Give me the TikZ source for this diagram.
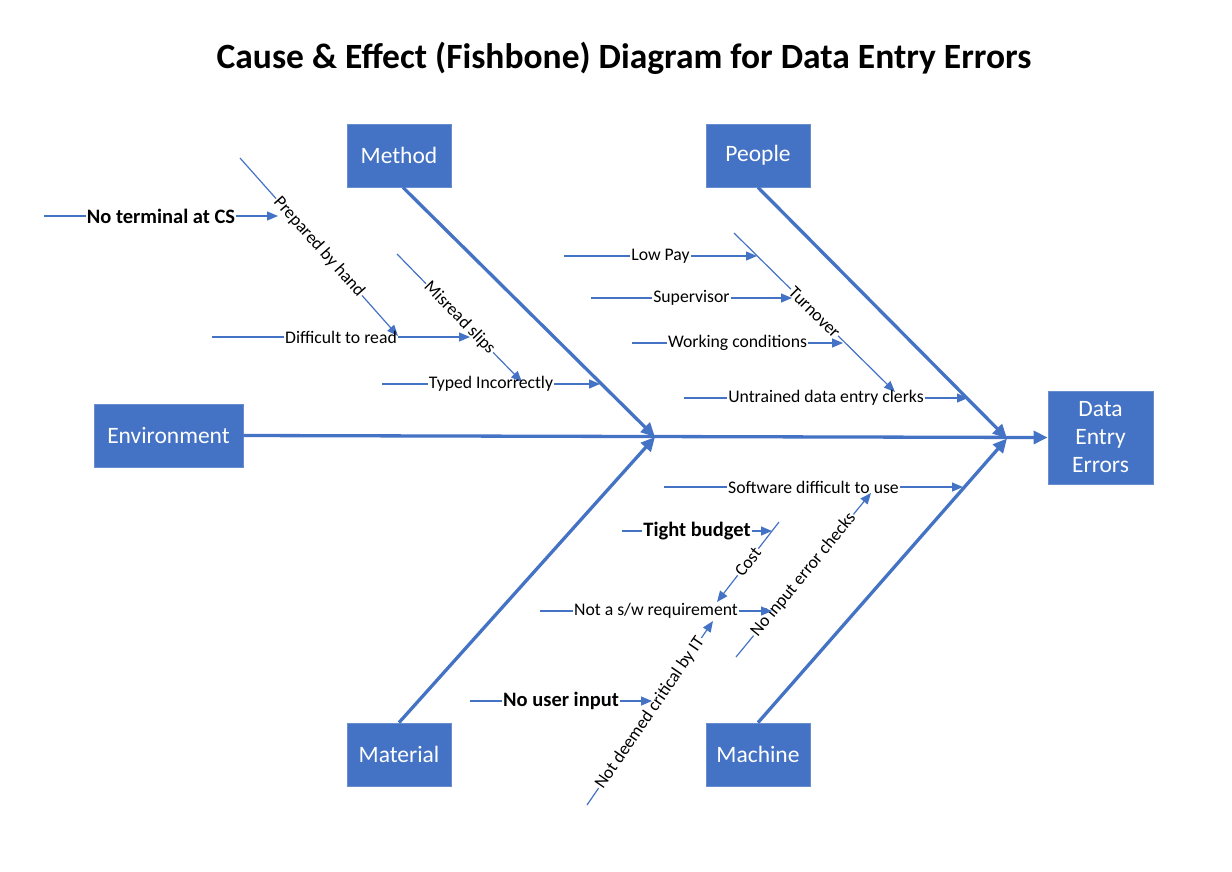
\documentclass[tikz,border=0pt]{standalone}
\usepackage{fontspec}
\setmainfont{Carlito}
\usetikzlibrary{arrows.meta}
\definecolor{boxblue}{HTML}{4472C4}
\definecolor{lineblue}{HTML}{4472C4}
\begin{document}
\begin{tikzpicture}[x=1pt,y=-1pt,
 box/.style={fill=boxblue, draw=boxblue!80!white, line width=0.8pt, text=white, font=\fontsize{23.5}{28}\selectfont, minimum width=104pt, minimum height=63pt, inner sep=0pt, align=center},
 bone/.style={draw=lineblue, line width=3.3pt, -{Triangle[length=14pt,width=13pt]}},
 sub/.style={draw=lineblue, line width=1.2pt},
 subarr/.style={sub, -{Triangle[length=11pt,width=9pt]}},
 lbl/.style={font=\fontsize{17.7}{21}\selectfont, inner sep=1pt},
 blbl/.style={font=\bfseries\fontsize{20.5}{24}\selectfont, inner sep=1pt},
 dlbl/.style={lbl, fill=white, sloped},
]
\useasboundingbox (0,0) rectangle (1232,871);

\node[font=\bfseries\fontsize{35.5}{42}\selectfont] (title) at (624,58) {Cause \& Effect (Fishbone) Diagram for Data Entry Errors};

% category boxes
\node[box] (method) at (399,155.5) {\raisebox{-1.5pt}{Method}};
\node[box] (people) at (758,155.5) {\raisebox{-1.5pt}{People}};
\node[box, minimum width=149pt] (env) at (168.5,435.5) {Environment};
\node[box] (material) at (399,754.5) {Material};
\node[box] (machine) at (758,754.5) {Machine};
\node[box, minimum width=105pt, minimum height=93pt] (effect) at (1100.5,437.5) {Data\\Entry\\Errors};

% junctions
\coordinate (j1) at (655,437);
\coordinate (j2) at (1007,438.5);

% bones
\draw[bone] (env.east) -- (effect.west);
\draw[bone] ([xshift=4pt]method.south) -- (j1);
\draw[bone] (material.north) -- (j1);
\draw[bone] (people.south) -- (j2);
\draw[bone] (machine.north) -- (j2);

% diagonal sub-causes
\coordinate (ph0) at (240,158); \coordinate (ph1) at (398,336);
\coordinate (ms0) at (397,254); \coordinate (ms1) at (522,382);
\coordinate (to0) at (734,233); \coordinate (to1) at (895,392);
\coordinate (co0) at (779,522); \coordinate (co1) at (717,602);
\coordinate (ni0) at (736,657); \coordinate (ni1) at (871,493);
\coordinate (nd0) at (587,805); \coordinate (nd1) at (713,621);

\draw[subarr] (ph0) -- node[dlbl] (ph) {Prepared by hand} (ph1);
\draw[subarr] (ms0) -- node[dlbl] (ms) {Misread slips} (ms1);
\draw[subarr] (to0) -- node[dlbl] (to) {Turnover} (to1);
\draw[subarr] (co0) -- node[dlbl] (co) {Cost} (co1);
\draw[subarr] (ni0) -- node[dlbl] (ni) {No input error checks} (ni1);
\draw[subarr] (nd0) -- node[dlbl] (nd) {Not deemed critical by IT} (nd1);

% horizontal sub-causes
\coordinate (nt0) at (44,216); \coordinate (nt1) at (278,216);
\coordinate (dr0) at (212,337); \coordinate (dr1) at (470,337);
\coordinate (ti0) at (382,384); \coordinate (ti1) at (600,384);
\coordinate (lp0) at (564,256); \coordinate (lp1) at (757,256);
\coordinate (sv0) at (591,298); \coordinate (sv1) at (792,298);
\coordinate (wc0) at (632,343); \coordinate (wc1) at (843,343);
\coordinate (ut0) at (684,398); \coordinate (ut1) at (968,398);
\coordinate (sd0) at (664,487); \coordinate (sd1) at (963,487);
\coordinate (tb0) at (622,531); \coordinate (tb1) at (772,531);
\coordinate (ns0) at (540,611); \coordinate (ns1) at (772,611);
\coordinate (nu0) at (470,701); \coordinate (nu1) at (652,701);

\path (nt0) -- node[blbl] (nt) {No terminal at CS} (nt1);
\draw[sub] (nt0) -- (nt.west); \draw[subarr] (nt.east) -- (nt1);
\path (dr0) -- node[lbl] (dr) {Difficult to read} (dr1);
\draw[sub] (dr0) -- (dr.west); \draw[subarr] (dr.east) -- (dr1);
\path (ti0) -- node[lbl] (ti) {Typed Incorrectly} (ti1);
\draw[sub] (ti0) -- (ti.west); \draw[subarr] (ti.east) -- (ti1);
\path (lp0) -- node[lbl] (lp) {Low Pay} (lp1);
\draw[sub] (lp0) -- (lp.west); \draw[subarr] (lp.east) -- (lp1);
\path (sv0) -- node[lbl] (sv) {Supervisor} (sv1);
\draw[sub] (sv0) -- (sv.west); \draw[subarr] (sv.east) -- (sv1);
\path (wc0) -- node[lbl] (wc) {Working conditions} (wc1);
\draw[sub] (wc0) -- (wc.west); \draw[subarr] (wc.east) -- (wc1);
\path (ut0) -- node[lbl] (ut) {Untrained data entry clerks} (ut1);
\draw[sub] (ut0) -- (ut.west); \draw[subarr] (ut.east) -- (ut1);
\path (sd0) -- node[lbl] (sd) {Software difficult to use} (sd1);
\draw[sub] (sd0) -- (sd.west); \draw[subarr] (sd.east) -- (sd1);
\path (tb0) -- node[blbl] (tb) {Tight budget} (tb1);
\draw[sub] (tb0) -- (tb.west); \draw[subarr] (tb.east) -- (tb1);
\path (ns0) -- node[lbl] (ns) {Not a s/w requirement} (ns1);
\draw[sub] (ns0) -- (ns.west); \draw[subarr] (ns.east) -- (ns1);
\path (nu0) -- node[blbl] (nu) {No user input} (nu1);
\draw[sub] (nu0) -- (nu.west); \draw[subarr] (nu.east) -- (nu1);
\end{tikzpicture}
\end{document}
